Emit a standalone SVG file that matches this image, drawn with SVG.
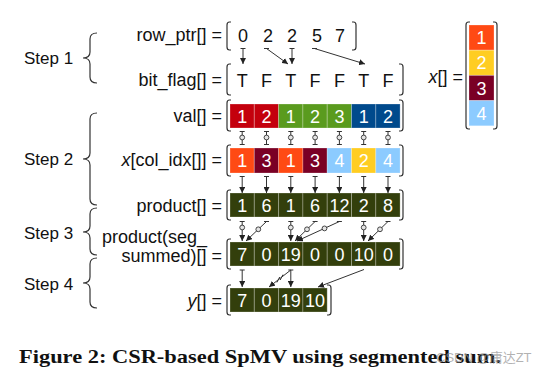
<svg xmlns="http://www.w3.org/2000/svg" width="542" height="372" viewBox="0 0 542 372">
<defs>
<marker id="ah" viewBox="0 0 6 6" refX="6" refY="3" markerWidth="6" markerHeight="6" markerUnits="userSpaceOnUse" orient="auto"><path d="M0,0 L6,3 L0,6 z" fill="#222"/></marker>
</defs>
<style>
.lbl{font-family:"Liberation Sans",Arial,sans-serif;font-size:18px;fill:#111;text-anchor:end}
.step{font-family:"Liberation Sans",Arial,sans-serif;font-size:17px;fill:#111}
.num{font-family:"Liberation Sans",Arial,sans-serif;font-size:18px;fill:#fff;text-anchor:middle}
.blk{font-family:"Liberation Sans",Arial,sans-serif;font-size:18px;fill:#111;text-anchor:middle}
.br{fill:none;stroke:#333;stroke-width:1.2}
.cell{stroke:#ffffff;stroke-opacity:0.25;stroke-width:1}
.c{fill:none;stroke:#333;stroke-width:1}
.a{fill:none;stroke:#333;stroke-width:1;marker-end:url(#ah)}
.o{fill:#e4e4e4;stroke:#333;stroke-width:0.9}
.red{fill:#c4000d}.grn{fill:#5a9b1e}.blu{fill:#004a8c}
.x1{fill:#ff4a14}.x2{fill:#ffcd22}.x3{fill:#7a0025}.x4{fill:#8ccbff}
.dk{fill:#333f0c}
.cap{font-family:"Liberation Serif","Times New Roman",serif;font-size:19px;font-weight:bold;fill:#111}
.wm{font-family:"Liberation Sans","Noto Sans CJK SC",sans-serif;font-size:13px;fill:#999;fill-opacity:0.75}
</style>

<g id="steps">
<g id="step1"><path class="br" d="M97,33 Q90,33 90,39 V52 Q90,58 83,58 Q90,58 90,64 V77 Q90,83 97,83"/><text class="step" x="24" y="64">Step 1</text></g>
<g id="step2"><path class="br" d="M97,113 Q90,113 90,119 V153 Q90,159 83,159 Q90,159 90,165 V199 Q90,205 97,205"/><text class="step" x="24" y="165">Step 2</text></g>
<g id="step3"><path class="br" d="M97,208 Q90,208 90,214 V226 Q90,232 83,232 Q90,232 90,238 V249 Q90,255 97,255"/><text class="step" x="24" y="239">Step 3</text></g>
<g id="step4"><path class="br" d="M97,258 Q90,258 90,264 V277 Q90,283 83,283 Q90,283 90,289 V302 Q90,308 97,308"/><text class="step" x="24" y="290">Step 4</text></g>
</g>

<g id="row_ptr">
<text class="lbl" x="222" y="41">row_ptr[] =</text>
<path class="br" d="M231,22 H229.5 Q227,22 227,25 V47 Q227,50 229.5,50 H231"/>
<path class="br" d="M352,22 H353.5 Q356,22 356,25 V47 Q356,50 353.5,50 H352"/>
<text class="blk" x="243" y="42">0</text><text class="blk" x="268" y="42">2</text><text class="blk" x="292" y="42">2</text><text class="blk" x="317" y="42">5</text><text class="blk" x="340" y="42">7</text>
</g>

<g id="bit_flag">
<text class="lbl" x="222" y="86">bit_flag[] =</text>
<path class="br" d="M231,64 H229.5 Q227,64 227,67 V92 Q227,95 229.5,95 H231"/>
<path class="br" d="M399,64 H400.5 Q403,64 403,67 V92 Q403,95 400.5,95 H399"/>
<text class="blk" x="242.2" y="87">T</text><text class="blk" x="266.5" y="87">F</text><text class="blk" x="290.8" y="87">T</text><text class="blk" x="315.1" y="87">F</text><text class="blk" x="339.4" y="87">F</text><text class="blk" x="363.7" y="87">T</text><text class="blk" x="388" y="87">F</text>
</g>

<g id="val">
<text class="lbl" x="222" y="122">val[] =</text>
<path class="br" d="M231,100 H229.5 Q227,100 227,103 V128 Q227,131 229.5,131 H231"/>
<path class="br" d="M399,100 H400.5 Q403,100 403,103 V128 Q403,131 400.5,131 H399"/>
<rect class="cell red" x="230" y="104" width="24.3" height="24"/><rect class="cell red" x="254.3" y="104" width="24.3" height="24"/><rect class="cell grn" x="278.6" y="104" width="24.3" height="24"/><rect class="cell grn" x="302.9" y="104" width="24.3" height="24"/><rect class="cell grn" x="327.2" y="104" width="24.3" height="24"/><rect class="cell blu" x="351.5" y="104" width="24.3" height="24"/><rect class="cell blu" x="375.8" y="104" width="24.3" height="24"/>
<text class="num" x="242.2" y="122.5">1</text><text class="num" x="266.5" y="122.5">2</text><text class="num" x="290.8" y="122.5">1</text><text class="num" x="315.1" y="122.5">2</text><text class="num" x="339.4" y="122.5">3</text><text class="num" x="363.7" y="122.5">1</text><text class="num" x="388" y="122.5">2</text>
</g>

<g id="x_col_idx">
<text class="lbl" x="222" y="166"><tspan font-style="italic">x</tspan>[col_idx[]] =</text>
<path class="br" d="M231,145 H229.5 Q227,145 227,148 V173 Q227,176 229.5,176 H231"/>
<path class="br" d="M399,145 H400.5 Q403,145 403,148 V173 Q403,176 400.5,176 H399"/>
<rect class="cell x1" x="230" y="148" width="24.3" height="25"/><rect class="cell x3" x="254.3" y="148" width="24.3" height="25"/><rect class="cell x1" x="278.6" y="148" width="24.3" height="25"/><rect class="cell x3" x="302.9" y="148" width="24.3" height="25"/><rect class="cell x4" x="327.2" y="148" width="24.3" height="25"/><rect class="cell x2" x="351.5" y="148" width="24.3" height="25"/><rect class="cell x4" x="375.8" y="148" width="24.3" height="25"/>
<text class="num" x="242.2" y="167">1</text><text class="num" x="266.5" y="167">3</text><text class="num" x="290.8" y="167">1</text><text class="num" x="315.1" y="167">3</text><text class="num" x="339.4" y="167">4</text><text class="num" x="363.7" y="167">2</text><text class="num" x="388" y="167">4</text>
</g>

<g id="product">
<text class="lbl" x="222" y="212">product[] =</text>
<path class="br" d="M231,190 H229.5 Q227,190 227,193 V217 Q227,220 229.5,220 H231"/>
<path class="br" d="M399,190 H400.5 Q403,190 403,193 V217 Q403,220 400.5,220 H399"/>
<rect class="cell dk" x="230" y="193" width="24.3" height="24"/><rect class="cell dk" x="254.3" y="193" width="24.3" height="24"/><rect class="cell dk" x="278.6" y="193" width="24.3" height="24"/><rect class="cell dk" x="302.9" y="193" width="24.3" height="24"/><rect class="cell dk" x="327.2" y="193" width="24.3" height="24"/><rect class="cell dk" x="351.5" y="193" width="24.3" height="24"/><rect class="cell dk" x="375.8" y="193" width="24.3" height="24"/>
<text class="num" x="242.2" y="211.5">1</text><text class="num" x="266.5" y="211.5">6</text><text class="num" x="290.8" y="211.5">1</text><text class="num" x="315.1" y="211.5">6</text><text class="num" x="339.4" y="211.5">12</text><text class="num" x="363.7" y="211.5">2</text><text class="num" x="388" y="211.5">8</text>
</g>

<g id="seg_summed">
<text class="lbl" x="207" y="243">product(seg_</text>
<text class="lbl" x="222" y="262">summed)[] =</text>
<path class="br" d="M231,239 H229.5 Q227,239 227,242 V266 Q227,269 229.5,269 H231"/>
<path class="br" d="M399,239 H400.5 Q403,239 403,242 V266 Q403,269 400.5,269 H399"/>
<rect class="cell dk" x="230" y="242" width="24.3" height="24"/><rect class="cell dk" x="254.3" y="242" width="24.3" height="24"/><rect class="cell dk" x="278.6" y="242" width="24.3" height="24"/><rect class="cell dk" x="302.9" y="242" width="24.3" height="24"/><rect class="cell dk" x="327.2" y="242" width="24.3" height="24"/><rect class="cell dk" x="351.5" y="242" width="24.3" height="24"/><rect class="cell dk" x="375.8" y="242" width="24.3" height="24"/>
<text class="num" x="242.2" y="260.5">7</text><text class="num" x="266.5" y="260.5">0</text><text class="num" x="290.8" y="260.5">19</text><text class="num" x="315.1" y="260.5">0</text><text class="num" x="339.4" y="260.5">0</text><text class="num" x="363.7" y="260.5">10</text><text class="num" x="388" y="260.5">0</text>
</g>

<g id="y">
<text class="lbl" x="222" y="307"><tspan font-style="italic">y</tspan>[] =</text>
<path class="br" d="M231,285 H229.5 Q227,285 227,288 V312 Q227,315 229.5,315 H231"/>
<path class="br" d="M327,285 H328.5 Q331,285 331,288 V312 Q331,315 328.5,315 H327"/>
<rect class="cell dk" x="230" y="288" width="24.3" height="24"/><rect class="cell dk" x="254.3" y="288" width="24.3" height="24"/><rect class="cell dk" x="278.6" y="288" width="24.3" height="24"/><rect class="cell dk" x="302.9" y="288" width="24.3" height="24"/>
<text class="num" x="242.2" y="306.5">7</text><text class="num" x="266.5" y="306.5">0</text><text class="num" x="290.8" y="306.5">19</text><text class="num" x="315.1" y="306.5">10</text>
</g>

<g id="x_vector">
<text class="lbl" x="463" y="83"><tspan font-style="italic">x</tspan>[] =</text>
<path class="br" d="M470,22 H468.5 Q466,22 466,25 V126 Q466,129 468.5,129 H470"/>
<path class="br" d="M493,22 H494.5 Q497,22 497,25 V126 Q497,129 494.5,129 H493"/>
<rect class="cell x1" x="469" y="25" width="25" height="25.2"/><rect class="cell x2" x="469" y="50.2" width="25" height="25.2"/><rect class="cell x3" x="469" y="75.4" width="25" height="25.2"/><rect class="cell x4" x="469" y="100.6" width="25" height="25.2"/>
<text class="num" x="481.5" y="44">1</text><text class="num" x="481.5" y="69">2</text><text class="num" x="481.5" y="94.5">3</text><text class="num" x="481.5" y="119.5">4</text>
</g>

<g id="connectors">
<!-- row_ptr to bit_flag -->
<path class="c" d="M240.5,48.5 H245.5 M264,48.5 H269 M289.5,48.5 H294.5 M312,48.5 H317"/>
<path class="a" d="M243,48.5 V64"/>
<path class="a" d="M266.5,48.5 L288,64"/>
<path class="a" d="M292,48.5 V64"/>
<path class="a" d="M314.5,48.5 L365,64"/>
<!-- val to x[col_idx] -->
<g>
<path class="c" d="M242.2,131.5 V144.5 M239.7,131.5 H244.7 M239.7,144.5 H244.7"/><circle class="o" cx="242.2" cy="137.5" r="2.4"/>
<path class="c" d="M266.5,131.5 V144.5 M264,131.5 H269 M264,144.5 H269"/><circle class="o" cx="266.5" cy="137.5" r="2.4"/>
<path class="c" d="M290.8,131.5 V144.5 M288.3,131.5 H293.3 M288.3,144.5 H293.3"/><circle class="o" cx="290.8" cy="137.5" r="2.4"/>
<path class="c" d="M315.1,131.5 V144.5 M312.6,131.5 H317.6 M312.6,144.5 H317.6"/><circle class="o" cx="315.1" cy="137.5" r="2.4"/>
<path class="c" d="M339.4,131.5 V144.5 M336.9,131.5 H341.9 M336.9,144.5 H341.9"/><circle class="o" cx="339.4" cy="137.5" r="2.4"/>
<path class="c" d="M363.7,131.5 V144.5 M361.2,131.5 H366.2 M361.2,144.5 H366.2"/><circle class="o" cx="363.7" cy="137.5" r="2.4"/>
<path class="c" d="M388,131.5 V144.5 M385.5,131.5 H390.5 M385.5,144.5 H390.5"/><circle class="o" cx="388" cy="137.5" r="2.4"/>
</g>
<!-- x[col_idx] to product -->
<path class="c" d="M239.7,176.5 H244.7 M264,176.5 H269 M288.3,176.5 H293.3 M312.6,176.5 H317.6 M336.9,176.5 H341.9 M361.2,176.5 H366.2 M385.5,176.5 H390.5"/>
<path class="a" d="M242.2,176.5 V193"/><path class="a" d="M266.5,176.5 V193"/><path class="a" d="M290.8,176.5 V193"/><path class="a" d="M315.1,176.5 V193"/><path class="a" d="M339.4,176.5 V193"/><path class="a" d="M363.7,176.5 V193"/><path class="a" d="M388,176.5 V193"/>
<!-- product to segmented sum -->
<path class="c" d="M239.7,221.5 H244.7 M264,221.5 H269 M288.3,221.5 H293.3 M312.6,221.5 H317.6 M336.9,221.5 H341.9 M361.2,221.5 H366.2 M385.5,221.5 H390.5"/>
<path class="a" d="M242.2,221.5 V241"/><circle class="o" cx="242.2" cy="227.5" r="2.4"/>
<path class="a" d="M266.5,221.5 L246,241"/><circle class="o" cx="258.3" cy="229.3" r="2.4"/>
<path class="a" d="M290.8,221.5 V241"/><circle class="o" cx="290.8" cy="227.5" r="2.4"/>
<path class="a" d="M315.1,221.5 L295,241"/><circle class="o" cx="307" cy="229.3" r="2.4"/>
<path class="a" d="M339.4,221.5 L297,241"/><circle class="o" cx="324.5" cy="228.4" r="2.4"/>
<path class="a" d="M363.7,221.5 V241"/><circle class="o" cx="363.7" cy="227.5" r="2.4"/>
<path class="a" d="M388,221.5 L368,241"/><circle class="o" cx="380" cy="229.3" r="2.4"/>
<!-- segmented sum to y -->
<path class="c" d="M239.7,270 H244.7 M288.3,270 H293.3"/>
<path class="a" d="M242.2,270 V287"/>
<path class="a" d="M290.8,270 V287"/>
<path class="a" d="M290.8,270 L269,287"/>
<path class="c" d="M276.9,282.4 L279.7,277 M280.2,280 L283,274.6"/>
<path class="a" d="M364,269.5 L318,287"/>
</g>

<g id="caption">
<text class="cap" x="19" y="363" textLength="482" lengthAdjust="spacingAndGlyphs">Figure 2: CSR-based SpMV using segmented sum.</text>
<text class="wm" x="436" y="362">CSDN @庸达ZT</text>
</g>
</svg>
